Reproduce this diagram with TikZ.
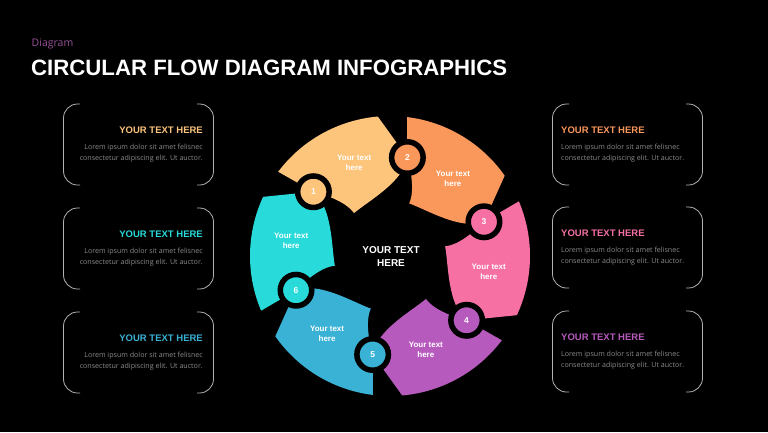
\documentclass[tikz,border=0pt]{standalone}
\usepackage{fontspec}
\setmainfont{Liberation Sans}
\newfontfamily\osans{Open Sans}
\usetikzlibrary{positioning}
\definecolor{segyellow}{RGB}{253,196,124}
\definecolor{segorange}{RGB}{250,151,90}
\definecolor{segpink}{RGB}{246,112,164}
\definecolor{segpurple}{RGB}{183,90,190}
\definecolor{segblue}{RGB}{58,178,214}
\definecolor{segcyan}{RGB}{40,218,218}
\definecolor{diagpurple}{RGB}{150,80,150}

\begin{document}
\begin{tikzpicture}[x=1bp, y=1bp,
    numdot/.style={circle, draw=black, line width=5.5bp, minimum size=31.5bp, inner sep=0pt, text=white, font=\bfseries\fontsize{8.5bp}{10bp}\selectfont},
    segtext/.style={text=white, align=center, inner sep=0pt, font=\bfseries\fontsize{8bp}{10bp}\selectfont},
    bracket/.style={draw=white!70!black, line width=0.8bp, rounded corners=14bp},
    headtext/.style={inner sep=0pt, font=\bfseries\fontsize{9.5bp}{11bp}\selectfont},
    bodytext/.style={inner sep=0pt, text=white!55!black, font=\osans\fontsize{7.1bp}{11bp}\selectfont}]

    \useasboundingbox (0,0) rectangle (768,-432);
    \fill[black] (0,0) rectangle (768,-432);

    % title
    \node[anchor=base west, inner sep=0pt, text=diagpurple, font=\osans\fontsize{10.5bp}{12bp}\selectfont] (kicker) at (31.5,-46) {Diagram};
    \node[anchor=base west, inner sep=0pt, text=white, font=\bfseries\fontsize{22.2bp}{24bp}\selectfont] (title) at (31,-75) {CIRCULAR FLOW DIAGRAM INFOGRAPHICS};

    % wheel
    \begin{scope}[shift={(390,-256)}]
    \foreach \c [count=\i from 0, evaluate=\i as \a using -60*\i] in {segyellow,segorange,segpink,segpurple,segblue,segcyan}
    \fill[\c] (\a+143:140) arc[start angle=\a+143, end angle=\a+95, radius=140]
        -- (\a+80:100) .. controls +(\a-100:25) and +(\a+40:20) .. (\a+130:56)
        .. controls +(\a+125:15) and +(\a-15:10) .. (\a+140:100) -- cycle;

    \foreach \c [count=\n from 1, evaluate=\n as \a using -60*\n+60] in {segyellow,segorange,segpink,segpurple,segblue,segcyan}{
        \node[numdot, fill=\c] (n\n) at (\a+140:100) {\n};
        \node[segtext] (s\n) at (\a+111:100) {Your text\\here};
    }
    \node[segtext, font=\bfseries\fontsize{10bp}{12.5bp}\selectfont] (hub) at (1,-0.5) {YOUR TEXT\\HERE};
    \end{scope}

    % left boxes
    \foreach \t/\c [count=\k] in {104/segyellow,208/segcyan,312/segblue}{
    \draw[bracket] (80,-\t) -- (63.5,-\t) -- (63.5,-\t-81) -- (80,-\t-81);
    \draw[bracket] (197,-\t) -- (213.5,-\t) -- (213.5,-\t-81) -- (197,-\t-81);
    \node[headtext, text=\c, anchor=base east] (lh\k) at (203,-\t-29.5) {YOUR TEXT HERE};
    \node[bodytext, align=right, anchor=north east] (lb\k) at (203,-\t-40) {Lorem ipsum dolor sit amet felisnec\\consectetur adipiscing elit. Ut auctor.};
    }

    % right boxes
    \foreach \t/\c [count=\k] in {104/segorange,207/segpink,311/segpurple}{
    \draw[bracket] (569,-\t) -- (552.5,-\t) -- (552.5,-\t-81) -- (569,-\t-81);
    \draw[bracket] (686,-\t) -- (702.5,-\t) -- (702.5,-\t-81) -- (686,-\t-81);
    \node[headtext, text=\c, anchor=base west] (rh\k) at (561,-\t-29.5) {YOUR TEXT HERE};
    \node[bodytext, align=left, anchor=north west] (rb\k) at (561,-\t-40) {Lorem ipsum dolor sit amet felisnec\\consectetur adipiscing elit. Ut auctor.};
    }
\end{tikzpicture}
\end{document}
